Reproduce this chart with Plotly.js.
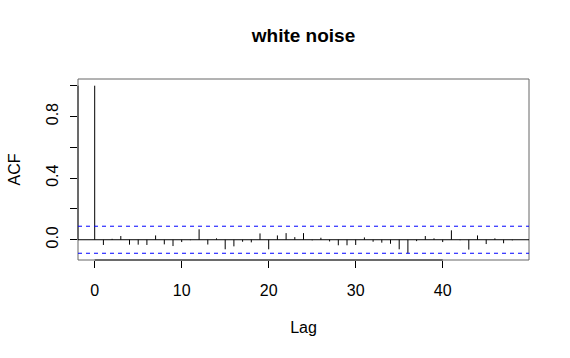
<!DOCTYPE html>
<html>
<head>
<meta charset="utf-8">
<script src="https://cdn.plot.ly/plotly-3.0.1.min.js"></script>
<style>html,body{margin:0;padding:0;background:#fff;}#chart{width:570px;height:358px;}</style>
</head>
<body>
<div id="chart"></div>
<script>
// lags 0..48
const lags = [];
for (let k = 0; k <= 48; k++) lags.push(k);
const acfValues = [
  1.000, -0.034, 0.006, 0.024, -0.032, -0.032, -0.034, 0.028, -0.030, -0.041,
  -0.015, -0.003, 0.068, -0.031, 0.009, -0.062, -0.043, -0.013, -0.017, 0.041,
  -0.062, 0.028, 0.043, 0.017, 0.043, -0.004, 0.013, -0.011, -0.036, -0.036,
  -0.034, 0.015, -0.013, -0.019, -0.026, -0.062, -0.088, -0.009, 0.024, 0.009,
  -0.015, 0.061, -0.003, -0.064, 0.028, -0.028, 0.009, -0.023, -0.004
];
const ciLimit = 0.0877;
const xTickVals = [0, 10, 20, 30, 40];
const xTickText = ['0', '10', '20', '30', '40'];
const yTickVals = [0, 0.2, 0.4, 0.6, 0.8, 1.0];
const yTickText = ['0.0', '', '0.4', '', '0.8', ''];

const sx = [], sy = [];
lags.forEach((k, i) => { sx.push(k, k, null); sy.push(0, acfValues[i], null); });

const xmin = lags[0], xmax = lags[lags.length - 1];
const xpad = (xmax - xmin) * 0.04;
const ymin = Math.min(-ciLimit, ...acfValues), ymax = Math.max(ciLimit, ...acfValues);
const ypad = (ymax - ymin) * 0.04;

const font = 'Liberation Sans, Arial, Helvetica, sans-serif';

const trace = {
  x: sx, y: sy, type: 'scatter', mode: 'lines',
  line: {color: '#000', width: 1}, hoverinfo: 'skip', showlegend: false
};

const layout = {
  width: 570, height: 358,
  margin: {l: 78, r: 41, t: 79, b: 98},
  paper_bgcolor: '#fff', plot_bgcolor: '#fff',
  font: {family: font, size: 16, color: '#000'},
  title: {text: '<b>white noise</b>', font: {family: font, size: 19, color: '#000'},
          x: 0.5325, xanchor: 'center', y: 0.902, yanchor: 'middle'},
  xaxis: {
    range: [xmin - xpad, xmax + xpad], showgrid: false, zeroline: false, showline: false,
    tickmode: 'array', tickvals: xTickVals, ticktext: xTickText,
    ticks: 'outside', ticklen: 7, tickcolor: '#000', tickwidth: 1,
    ticklabelstandoff: 9,
    tickfont: {family: font, size: 16, color: '#000'},
    title: {text: 'Lag', font: {family: font, size: 16, color: '#000'}, standoff: 23}
  },
  yaxis: {
    range: [ymin - ypad, ymax + ypad], showgrid: false, zeroline: false, showline: false,
    tickmode: 'array', tickvals: yTickVals, ticktext: yTickText,
    ticks: 'outside', ticklen: 7, tickcolor: '#000', tickwidth: 1,
    tickangle: -90, ticklabelstandoff: 6,
    tickfont: {family: font, size: 16, color: '#000'},
    title: {text: 'ACF', font: {family: font, size: 16, color: '#000'}, standoff: 18}
  },
  shapes: [
    {type: 'rect', xref: 'paper', yref: 'paper', x0: 0, x1: 1, y0: 0, y1: 1,
     line: {color: '#666', width: 1}},
    {type: 'line', xref: 'x', yref: 'paper', x0: xTickVals[0], x1: xTickVals[xTickVals.length - 1], y0: 0, y1: 0,
     line: {color: '#222', width: 1}},
    {type: 'line', xref: 'paper', yref: 'y', x0: 0, x1: 0, y0: yTickVals[0], y1: yTickVals[yTickVals.length - 1],
     line: {color: '#222', width: 1}},
    {type: 'line', xref: 'paper', yref: 'y', x0: 0, x1: 1, y0: 0, y1: 0,
     line: {color: '#000', width: 1}},
    {type: 'line', xref: 'paper', yref: 'y', x0: 0, x1: 1, y0: ciLimit, y1: ciLimit,
     line: {color: '#0000ff', width: 1, dash: '4px,4px'}},
    {type: 'line', xref: 'paper', yref: 'y', x0: 0, x1: 1, y0: -ciLimit, y1: -ciLimit,
     line: {color: '#0000ff', width: 1, dash: '4px,4px'}}
  ]
};

Plotly.newPlot('chart', [trace], layout, {displayModeBar: false, staticPlot: true});
</script>
</body>
</html>
